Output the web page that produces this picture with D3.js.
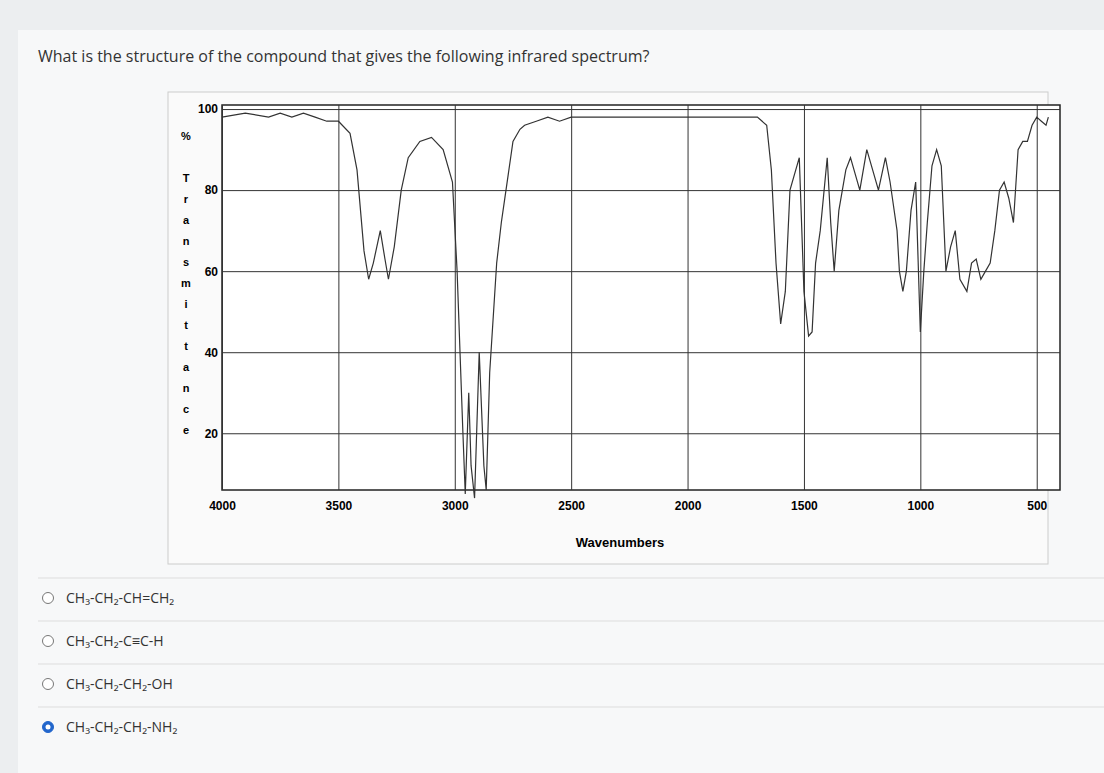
<!DOCTYPE html>
<html><head><meta charset="utf-8">
<script src="https://cdn.jsdelivr.net/npm/d3@7"></script>
<style>
body{margin:0;background:#eef0f2;font-family:"Open Sans",Arial,sans-serif;}
</style></head>
<body><svg id="chart" width="1104" height="773"></svg>
<script>
// wavenumber (cm-1) and %T
const wavenumbers = [4000,3900,3800,3750,3700,3650,3600,3550,3500,3450,3420,3390,3370,3350,3320,3300,3285,3260,3230,3200,3150,3100,3050,3010,2990,2965,2955,2940,2930,2915,2895,2875,2865,2850,2820,2800,2780,2750,2720,2700,2650,2600,2550,2500,2400,2300,2200,2100,2000,1900,1800,1700,1660,1640,1620,1600,1580,1560,1520,1500,1480,1465,1450,1430,1400,1385,1370,1350,1320,1300,1260,1230,1200,1180,1150,1130,1100,1090,1075,1060,1040,1020,1000,985,970,950,930,910,890,870,850,830,800,780,760,740,720,700,680,660,640,620,600,580,560,540,520,500,480,460,450];
const transmittance = [98,99,98,99,98,99,98,97,97,94,85,65,58,62,70,63,58,66,80,88,92,93,90,82,60,20,5,30,12,4,40,12,6,35,62,72,80,92,95,96,97,98,97,98,98,98,98,98,98,98,98,98,96,85,62,47,55,80,88,55,44,45,62,70,88,72,60,75,85,88,80,90,84,80,88,82,70,60,55,60,75,82,45,60,72,86,90,86,60,66,70,58,55,62,63,58,60,62,70,80,82,78,72,90,92,92,96,98,97,96,98];
const yTicks = [100,80,60,40,20];
const xTicks = [4000,3500,3000,2500,2000,1500,1000,500];
const options = ["CH₃-CH₂-CH=CH₂","CH₃-CH₂-C≡C-H","CH₃-CH₂-CH₂-OH","CH₃-CH₂-CH₂-NH₂"];
const selected = 3;
const ylabelChars = ["%","","T","r","a","n","s","m","i","t","t","a","n","c","e"];

const svg = d3.select("#chart");
svg.append("rect").attr("x",0).attr("y",0).attr("width",1104).attr("height",773).attr("fill","#eceef0");
svg.append("rect").attr("x",18).attr("y",30).attr("width",1086).attr("height",743).attr("fill","#f7f8f9");

svg.append("text").attr("x",38).attr("y",62).attr("font-size",16).attr("fill","#333")
  .text("What is the structure of the compound that gives the following infrared spectrum?");

// chart panel
svg.append("rect").attr("x",168).attr("y",92).attr("width",880).attr("height",472).attr("fill","#fafafa").attr("stroke","#ccc");

const x = d3.scaleLinear().domain([4000,400]).range([222,1060]);
const y = d3.scaleLinear().domain([101,6]).range([105,490]);

const g = svg.append("g");
g.append("rect").attr("x",222).attr("y",105).attr("width",838).attr("height",385).attr("fill","#fff").attr("stroke","#222").attr("stroke-width",1.5);

g.append("g").attr("transform","translate(0,490)")
  .call(d3.axisBottom(x).tickValues(xTicks).tickSize(-385).tickFormat(d3.format("d")))
  .call(a=>a.select(".domain").remove())
  .call(a=>a.selectAll("line").attr("stroke","#333"))
  .call(a=>a.selectAll("text").attr("dy","1.4em").attr("font-size",12).attr("font-weight","bold").attr("font-family","Arial"));
g.append("g").attr("transform","translate(222,0)")
  .call(d3.axisLeft(y).tickValues(yTicks).tickSizeInner(-838).tickSizeOuter(0))
  .call(a=>a.select(".domain").remove())
  .call(a=>a.selectAll("line").attr("stroke","#333"))
  .call(a=>a.selectAll("text").attr("x",-4).attr("font-size",12).attr("font-weight","bold").attr("font-family","Arial"));

ylabelChars.forEach((c,i)=>{
  g.append("text").attr("x",186).attr("y",140+i*21).attr("font-size",11).attr("font-weight","bold")
   .attr("font-family","Arial").attr("text-anchor","middle").text(c);
});

g.append("text").attr("x",620).attr("y",547).attr("text-anchor","middle").attr("font-size",13)
  .attr("font-weight","bold").attr("font-family","Arial").text("Wavenumbers");

const pts = wavenumbers.map((w,i)=>[w,transmittance[i]]);
g.append("path").datum(pts).attr("fill","none").attr("stroke","#333").attr("stroke-width",1.2)
  .attr("d",d3.line().x(d=>x(d[0])).y(d=>y(d[1])));

// answer options
options.forEach((o,i)=>{
  const yy = 603 + i*43;
  svg.append("line").attr("x1",38).attr("x2",1104).attr("y1",yy-25).attr("y2",yy-25).attr("stroke","#ddd");
  svg.append("circle").attr("cx",48).attr("cy",yy-5).attr("r",5.5)
    .attr("fill",i===selected?"#2266cc":"#fff").attr("stroke",i===selected?"#2266cc":"#777");
  if(i===selected) svg.append("circle").attr("cx",48).attr("cy",yy-5).attr("r",2.5).attr("fill","#fff").attr("stroke","none");
  svg.append("text").attr("x",66).attr("y",yy).attr("font-size",14).attr("fill","#333").text(o);
});
</script></body></html>
